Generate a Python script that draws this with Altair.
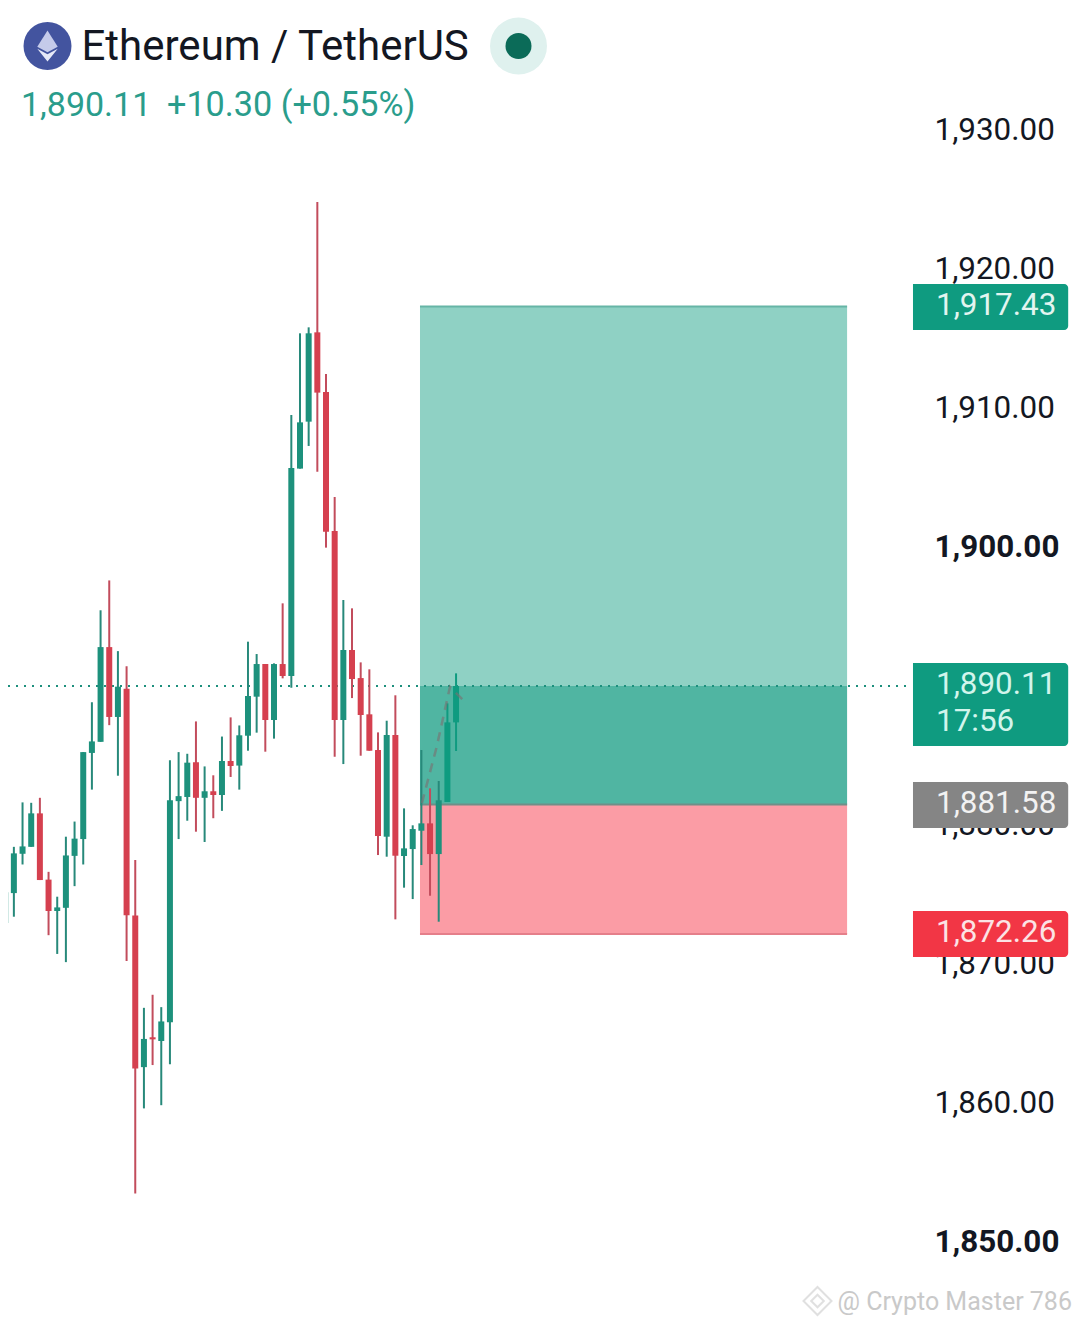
import altair as alt
import pandas as pd

# ---------- candle values (price) ----------
opens = [1873.05,1875.2,1878.03,1878.53,1880.94,1876.17,1873.91,1874.14,1877.88,1879.09,
         1885.29,1886.09,1892.91,1887.88,1889.91,1873.58,1862.67,1864.82,1864.55,1865.91,
         1881.82,1882.12,1884.62,1882.06,1882.53,1882.26,1884.71,1884.38,1886.53,1889.34,
         1891.69,1887.66,1891.69,1890.83,1905.76,1909.14,1915.57,1911.28,1901.27,1887.66,
         1892.7,1890.68,1888.07,1885.5,1879.26,1886.58,1877.87,1878.37,1879.69,1880.22,
         1878.01,1881.76,1887.49]
highs = [1875.94,1878.53,1881.73,1881.7,1882.06,1876.73,1874.94,1879.26,1880.35,1885.35,
         1888.94,1895.56,1897.71,1892.62,1891.53,1877.58,1866.94,1867.88,1866.99,1884.76,
         1885.35,1885.23,1887.56,1884.32,1883.68,1886.47,1887.85,1887.27,1893.3,1892.41,
         1891.69,1891.74,1896.06,1909.62,1915.5,1915.93,1924.96,1912.57,1903.72,1896.3,
         1895.7,1891.81,1891.31,1886.77,1887.61,1889.44,1881.3,1880.08,1885.5,1882.74,
         1883.27,1888.86,1891.02]
lows = [1871.0,1873.5,1877.26,1878.53,1876.14,1872.17,1870.82,1870.23,1875.7,1877.26,
        1882.65,1886.09,1887.29,1883.65,1870.32,1853.58,1859.7,1862.82,1859.93,1862.88,
        1879.09,1880.41,1879.62,1878.88,1880.59,1881.12,1883.56,1882.65,1885.45,1886.75,
        1885.38,1886.32,1890.66,1889.99,1905.76,1907.39,1905.54,1900.07,1885.02,1884.49,
        1889.24,1885.09,1885.45,1877.94,1877.82,1873.31,1875.59,1874.77,1877.22,1875.01,
        1873.14,1881.76,1885.43]
closes = [1875.26,1878.06,1878.56,1880.94,1876.14,1873.91,1874.17,1877.91,1879.12,1885.35,
          1886.12,1892.91,1887.88,1890.06,1873.61,1862.58,1864.7,1864.67,1865.96,1881.88,
          1882.18,1884.59,1882.06,1882.53,1882.26,1884.71,1884.35,1886.56,1889.39,1891.69,
          1887.66,1891.69,1890.83,1905.81,1909.09,1915.5,1911.23,1901.22,1887.66,1892.7,
          1890.61,1888.02,1885.45,1879.31,1886.58,1877.89,1878.42,1879.81,1880.22,1878.01,
          1881.88,1887.49,1890.11]

tick_prices = [1850, 1860, 1870, 1880, 1890, 1900, 1910, 1920, 1930]
tick_hidden = [1890]

entry_price = 1881.58
target_price = 1917.43
stop_price = 1872.26
last_price = 1890.11

box_start, box_end = 47.84, 97.1
line_end = 104.13

path_idx = [48.06, 49.77, 51.3, 53.03]
path_price = [1881.68, 1885.74, 1890.05, 1888.96]

badge_texts = ["1,917.43", "1,890.11", "1,881.58", "1,872.26"]
badge_top = [1919.05, 1891.77, 1883.2, 1873.91]
badge_bottom = [1915.74, 1885.79, 1879.89, 1870.6]
badge_colors = ["#0f9b80", "#0f9b80", "#858585", "#f23645"]
badge_x0, badge_x1 = 104.7, 122.6

FONT = "Roboto"
GREEN = "#1d917c"
RED = "#d5404f"

candles = pd.DataFrame({"i": list(range(len(opens))), "o": opens, "h": highs, "l": lows, "c": closes})
candles["top"] = candles[["o", "c"]].max(axis=1)
candles["bot"] = candles[["o", "c"]].min(axis=1)
candles["col"] = [GREEN if c >= o else RED for o, c in zip(opens, closes)]
candles["wick"] = ["#27897a" if c >= o else "#c24c5c" for o, c in zip(opens, closes)]
candles.loc[51:, "col"] = "#0f9b80"
candles.loc[51:, "wick"] = "#0f9b80"

xs = alt.Scale(domain=[0.323, 123.04], nice=False, zero=False, padding=0)
ys = alt.Scale(domain=[1844.61, 1938.92], nice=False, zero=False, padding=0)
yaxis = alt.Axis(
    orient="right", values=[t for t in tick_prices if t not in tick_hidden], format=",.2f", title=None,
    grid=False, domain=False, ticks=False, offset=-138, labelPadding=0, labelAlign="left",
    labelBaseline="middle", labelOffset=-1, labelFont=FONT, labelFontSize=31.4, labelColor="#131722",
    labelFontWeight=alt.expr("datum.value % 50 == 0 ? 'bold' : 'normal'"),
    labelOverlap=False, labelBound=False, labelFlush=False,
)


def X(f):
    return alt.X(f, type="quantitative", scale=xs, axis=None)


def Y(f):
    return alt.Y(f, type="quantitative", scale=ys, axis=yaxis)


zones = pd.DataFrame({
    "a": [box_start] * 3, "b": [box_end] * 3,
    "t": [target_price, last_price, entry_price],
    "u": [last_price, entry_price, stop_price],
    "col": ["#8fd1c4", "#50b5a2", "#fb9ca5"],
})
zone_layer = alt.Chart(zones).mark_rect(stroke=None).encode(
    x=X("a"), x2="b", y=Y("t"), y2="u", color=alt.Color("col:N", scale=None))

edges = pd.DataFrame({
    "a": [box_start] * 3, "b": [box_end] * 3,
    "p": [target_price, entry_price, stop_price],
    "col": ["#66b5a6", "#6f8f88", "#e57f8a"],
})
edge_layer = alt.Chart(edges).mark_rule(strokeWidth=2).encode(
    x=X("a"), x2="b", y=Y("p"), color=alt.Color("col:N", scale=None))

dotted = alt.Chart(pd.DataFrame({"a": [0.323], "b": [line_end], "p": [last_price]})).mark_rule(
    strokeWidth=2, strokeDash=[2, 6], color="#1d8f7d").encode(x=X("a"), x2="b", y=Y("p"))

wicks = alt.Chart(candles).mark_rule(strokeWidth=2).encode(
    x=X("i"), y=Y("h"), y2="l", color=alt.Color("wick:N", scale=None))
bodies = alt.Chart(candles).mark_bar(size=6).encode(
    x=X("i"), y=Y("top"), y2="bot", color=alt.Color("col:N", scale=None))

dash = alt.Chart(pd.DataFrame({"i": path_idx, "p": path_price})).mark_line(
    strokeWidth=2.5, strokeDash=[9, 7], color="#7a6f70", opacity=0.6).encode(
    x=X("i"), y=Y("p"), order="i:Q")

badges = pd.DataFrame({
    "a": [badge_x0] * 4, "b": [badge_x1] * 4, "t": badge_top, "u": badge_bottom,
    "col": badge_colors, "txt": badge_texts,
})
badge_layer = alt.Chart(badges).mark_bar(
    cornerRadiusTopRight=4, cornerRadiusBottomRight=4).encode(
    x=X("a"), x2="b", y=Y("t"), y2="u", color=alt.Color("col:N", scale=None))

label_df = pd.DataFrame({
    "txt": badge_texts + ["17:56"],
    "p": [1917.43, 1890.11, 1881.51, 1872.26, 1887.46],
    "col": ["#e2f5f0", "#d2f5ec", "#f2f2f2", "#fbe3e5", "#d2f5ec"],
})
label_layer = alt.Chart(label_df).mark_text(
    font=FONT, fontSize=31.4, align="left", baseline="middle", dy=-1).encode(
    x=alt.value(928), y=Y("p"), text="txt:N", color=alt.Color("col:N", scale=None))


def text(t, x, y, size, color, **kw):
    return alt.Chart(pd.DataFrame({"t": [t]})).mark_text(
        font=FONT, fontSize=size, align="left", baseline="alphabetic", color=color, **kw).encode(
        x=alt.value(x), y=alt.value(y), text="t:N")


def symbol(x, y, size, shape, fill):
    return alt.Chart(pd.DataFrame({"k": [0]})).mark_point(
        shape=shape, size=size, filled=True, fill=fill, opacity=1, strokeWidth=0).encode(
        x=alt.value(x), y=alt.value(y))


header = [
    symbol(39.5, 38, 2304, "circle", "#43549f"),
    symbol(39.5, 38, 961, "M0,-1 L0.66,0.05 L0,0.4 L-0.66,0.05 Z", "#c5cbea"),
    symbol(39.5, 38, 961, "M0,0.53 L0.66,0.17 L0,1 L-0.66,0.17 Z", "#e6e9f7"),
    symbol(510.5, 38, 3249, "circle", "#dff1ee"),
    symbol(510.5, 38, 676, "circle", "#0b6b58"),
    text("Ethereum / TetherUS", 73.5, 52, 42, "#131722"),
    text("1,890.11", 13, 107.5, 34, "#2a9d8c"),
    text("+10.30 (+0.55%)", 159, 107.5, 34.2, "#2a9d8c"),
    text("@ Crypto Master 786", 829.5, 1302, 25, "#c9c9c9"),
    alt.Chart(pd.DataFrame({"k": [0]})).mark_point(
        shape="M0,-1 L1,0 L0,1 L-1,0 Z M0,-0.45 L0.45,0 L0,0.45 L-0.45,0 Z", size=784,
        filled=False, stroke="#d4d4d4", strokeWidth=2).encode(x=alt.value(809.5), y=alt.value(1293)),
]

chart = alt.layer(
    zone_layer, edge_layer, dotted, wicks, bodies, dash, badge_layer, label_layer, *header
).properties(
    width=1064, height=1310, padding=0,
    autosize=alt.AutoSizeParams(type="none"), background="white",
).configure_view(stroke=None)

chart.save("out.html", embed_options={"renderer": "svg", "actions": False})
